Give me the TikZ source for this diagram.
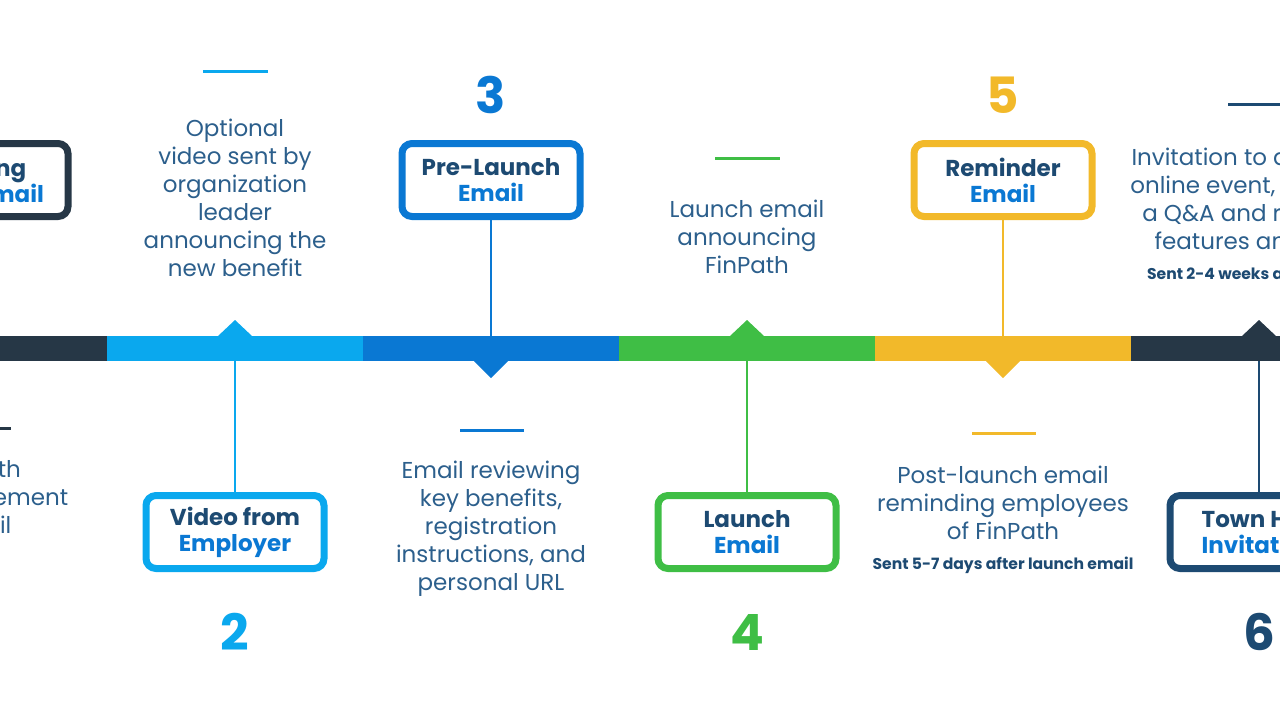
\documentclass[tikz,border=0pt]{standalone}
\usepackage{fontspec}
\setmainfont{Poppins}
\usetikzlibrary{positioning,calc}
\definecolor{navy}{HTML}{263746}
\definecolor{sky}{HTML}{0AA8EE}
\definecolor{ocean}{HTML}{0A78D3}
\definecolor{green}{HTML}{3FBE45}
\definecolor{amber}{HTML}{F2B92A}
\definecolor{deep}{HTML}{1D4A72}
\definecolor{ink}{HTML}{2C5F8C}

\begin{document}
\begin{tikzpicture}[
  x=0.5pt, y=-0.5pt,
  seg/.style={minimum width=128pt,minimum height=12.5pt,inner sep=0pt,outer sep=0pt},
  card/.style={draw,line width=3.5pt,rounded corners=5pt,fill=white,
               minimum width=89pt,minimum height=36.5pt,inner sep=0pt,align=center,
               text=deep,font=\bfseries\fontsize{11.5}{13}\selectfont},
  blurb/.style={align=center,inner sep=0pt,text=ink,font=\fontsize{11.5}{14}\selectfont},
  note/.style={align=center,inner sep=0pt,text=deep,font=\bfseries\fontsize{7.8}{9}\selectfont},
  num/.style={inner sep=0pt,font=\bfseries\fontsize{25}{25}\selectfont},
  link/.style={line width=1pt},
  rule/.style={line width=1.5pt}
]
  \useasboundingbox (0,0) rectangle (1280,720);
  \clip (0,0) rectangle (1280,720);

  % timeline bar
  \node[seg,fill=navy]  (seg1) at (-21,348.5) {};
  \node[seg,fill=sky]   (seg2) at (235,348.5) {};
  \node[seg,fill=ocean] (seg3) at (491,348.5) {};
  \node[seg,fill=green] (seg4) at (747,348.5) {};
  \node[seg,fill=amber] (seg5) at (1003,348.5) {};
  \node[seg,fill=navy]  (seg6) at (1259,348.5) {};

  \fill[sky]   ($(seg2.north)+(-17,0)$) -- ++(17,-16) -- ++(17,16) -- cycle;
  \fill[ocean] ($(seg3.south)+(-17,0)$) -- ++(17,17) -- ++(17,-17) -- cycle;
  \fill[green] ($(seg4.north)+(-17,0)$) -- ++(17,-16) -- ++(17,16) -- cycle;
  \fill[amber] ($(seg5.south)+(-17,0)$) -- ++(17,17) -- ++(17,-17) -- cycle;
  \fill[navy]  ($(seg6.north)+(-17,0)$) -- ++(17,-16) -- ++(17,16) -- cycle;

  % step cards
  \node[card,draw=navy]  (box1) at (-21,180)  {Coming\\\textcolor{ocean}{Soon Email}};
  \node[card,draw=sky]   (box2) at (235,532)  {Video from\\\textcolor{ocean}{Employer}};
  \node[card,draw=ocean] (box3) at (491,180)  {Pre-Launch\\\textcolor{ocean}{Email}};
  \node[card,draw=green] (box4) at (747,532)  {Launch\\\textcolor{ocean}{Email}};
  \node[card,draw=amber] (box5) at (1003,180) {Reminder\\\textcolor{ocean}{Email}};
  \node[card,draw=deep]  (box6) at (1259,532) {Town Hall\\\textcolor{ocean}{Invitation}};

  \draw[link,sky]   (seg2.south) -- (box2.north);
  \draw[link,ocean] (box3.south) -- (seg3.north);
  \draw[link,green] (seg4.south) -- (box4.north);
  \draw[link,amber] (box5.south) -- (seg5.north);
  \draw[link,deep]  (seg6.south) -- (box6.north);

  % step numbers
  \node[num,text=sky]   (n2) at (235,632)  {2};
  \node[num,text=ocean] (n3) at (491,95)   {3};
  \node[num,text=green] (n4) at (747,632)  {4};
  \node[num,text=amber] (n5) at (1003,95)  {5};
  \node[num,text=deep]  (n6) at (1259,632) {6};

  % descriptions
  \node[blurb,anchor=north] (txt1) at (-21,460) {FinPath\\announcement\\email};
  \node[blurb,anchor=north] (txt2) at (235,119) {Optional\\video sent by\\organization\\leader\\announcing the\\new benefit};
  \node[blurb,anchor=north] (txt3) at (491,461) {Email reviewing\\key benefits,\\registration\\instructions, and\\personal URL};
  \node[blurb,anchor=north] (txt4) at (747,200) {Launch email\\announcing\\FinPath};
  \node[blurb,anchor=north] (txt5) at (1003,466) {Post-launch email\\reminding employees\\of FinPath};
  \node[note,below=8pt of txt5] (sent5) {Sent 5-7 days after launch email};
  \node[blurb,anchor=north] (txt6) at (1259,148) {Invitation to attend an\\online event, including\\a Q\&A and review of\\features and tools};
  \node[note,below=8pt of txt6] (sent6) {Sent 2-4 weeks after launch};

  \draw[rule,navy]  (-53,428) -- (11,428);
  \draw[rule,sky]   (203,71) -- (268,71);
  \draw[rule,ocean] (460,430) -- (524,430);
  \draw[rule,green] (715,158) -- (780,158);
  \draw[rule,amber] (972,433) -- (1036,433);
  \draw[rule,deep]  (1228,104) -- (1293,104);
\end{tikzpicture}
\end{document}
